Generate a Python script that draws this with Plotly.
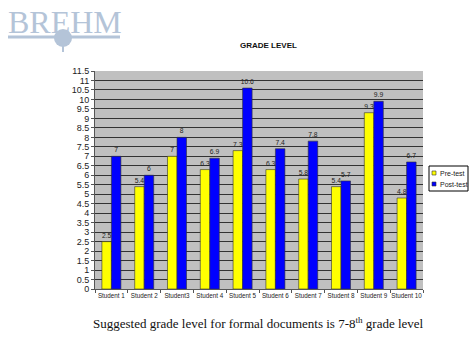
import plotly.graph_objects as go

students = ["Student 1", "Student 2", "Student3", "Student 4", "Student 5",
            "Student 6", "Student 7", "Student 8", "Student 9", "Student 10"]
pre_test = [2.5, 5.4, 7, 6.3, 7.3, 6.3, 5.8, 5.4, 9.3, 4.8]
post_test = [7, 6, 8, 6.9, 10.6, 7.4, 7.8, 5.7, 9.9, 6.7]
y_ticks = [i * 0.5 for i in range(24)]
series_names = ["Pre-test", "Post-test"]
series_colors = ["#ffff00", "#0000ff"]

fig = go.Figure()
for name, vals, col in zip(series_names, [pre_test, post_test], series_colors):
    fig.add_trace(go.Bar(
        x=students, y=vals, name=name,
        marker=dict(color=col, line=dict(color="#333333", width=0.6)),
        text=[f"{v:g}" for v in vals], textposition="outside",
        textfont=dict(size=7, color="#222222", family="Arial"), cliponaxis=False,
        showlegend=False,
    ))

fig.update_layout(
    width=474, height=355,
    margin=dict(l=95, r=51, t=71, b=66),
    paper_bgcolor="white", plot_bgcolor="#c0c0c0",
    barmode="group", bargap=0.42, bargroupgap=0,
    uniformtext=dict(minsize=6, mode="show"),
    font=dict(family="Arial", color="#222222"),
)
fig.update_xaxes(
    showline=True, linecolor="#555555", linewidth=1,
    ticks="outside", ticklen=3, tickcolor="#555555", tickson="boundaries",
    tickangle=0,
    tickfont=dict(size=6.3, family="Arial", color="#222222"),
    showgrid=False,
)
fig.update_yaxes(
    range=[0, 11.5], tickvals=y_ticks, ticktext=[f"{v:g}" for v in y_ticks],
    showline=True, linecolor="#555555", linewidth=1,
    ticks="outside", ticklen=3, tickcolor="#555555",
    tickfont=dict(size=9, family="Arial", color="#222222"),
    showgrid=True, gridcolor="#333333", gridwidth=1,
    zeroline=False,
)

# custom legend (paper coords: plot area x 95..423, y 71..289)
def px(x):
    return (x - 95) / 328.0
def py(y):
    return (289 - y) / 218.0

fig.add_shape(type="rect", xref="paper", yref="paper",
              x0=px(429), x1=px(468), y0=py(166), y1=py(191),
              fillcolor="white", line=dict(color="black", width=1))
for i, (name, col) in enumerate(zip(series_names, series_colors)):
    yc = 173 + i * 11
    fig.add_shape(type="rect", xref="paper", yref="paper",
                  x0=px(432), x1=px(436), y0=py(yc + 2), y1=py(yc - 2),
                  fillcolor=col, line=dict(color="#333333", width=0.6))
    fig.add_annotation(text=name, xref="paper", yref="paper",
                       x=px(437.5), y=py(yc), xanchor="left", yanchor="middle",
                       showarrow=False,
                       font=dict(size=7, family="Arial", color="#222222"))

fig.add_annotation(text="<b>GRADE LEVEL</b>", xref="paper", yref="paper",
                   x=0.53, y=py(45), showarrow=False, yanchor="middle",
                   font=dict(size=8, family="Arial", color="#111111"))
fig.add_annotation(text="Suggested grade level for formal documents is 7-8<sup>th</sup> grade level",
                   xref="paper", yref="paper", x=px(258), y=py(323), showarrow=False,
                   xanchor="center", yanchor="middle",
                   font=dict(size=13, family="Liberation Serif", color="#111111"))
# Logo
fig.add_annotation(text="BREHM", xref="paper", yref="paper",
                   x=px(6), y=py(22), xanchor="left", yanchor="middle", showarrow=False,
                   font=dict(size=32, family="Liberation Serif", color="#b4c4d8"))
fig.add_shape(type="line", xref="paper", yref="paper",
              x0=px(8), x1=px(120), y0=py(37), y1=py(37),
              line=dict(color="#b4c4d8", width=3))
fig.add_shape(type="circle", xref="paper", yref="paper",
              x0=px(54), x1=px(72), y0=py(47), y1=py(29),
              fillcolor="#b4c4d8", line=dict(color="#b4c4d8", width=0))
fig.add_shape(type="line", xref="paper", yref="paper",
              x0=px(63), x1=px(63), y0=py(52), y1=py(45),
              line=dict(color="#b4c4d8", width=2))

fig.write_html("out.html")
